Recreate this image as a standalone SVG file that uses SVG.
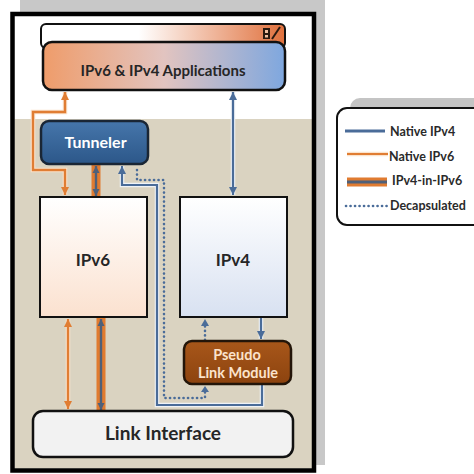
<svg xmlns="http://www.w3.org/2000/svg" width="474" height="474" viewBox="0 0 474 474">
<defs>
<linearGradient id="gApps" x1="0" y1="0" x2="1" y2="0">
<stop offset="0" stop-color="#ef9c6a"/><stop offset="0.5" stop-color="#e2c4c0"/><stop offset="1" stop-color="#7ea7df"/>
</linearGradient>
<linearGradient id="gStrip" x1="0" y1="0" x2="1" y2="0">
<stop offset="0" stop-color="#ffffff"/><stop offset="0.4" stop-color="#ffffff"/><stop offset="1" stop-color="#e0703c"/>
</linearGradient>
<linearGradient id="gTun" x1="0" y1="0" x2="0" y2="1">
<stop offset="0" stop-color="#4676ab"/><stop offset="1" stop-color="#2c5789"/>
</linearGradient>
<linearGradient id="gV6" x1="0" y1="0" x2="0" y2="1">
<stop offset="0" stop-color="#ffffff"/><stop offset="1" stop-color="#fbe1cf"/>
</linearGradient>
<linearGradient id="gV4" x1="0" y1="0" x2="0" y2="1">
<stop offset="0" stop-color="#ffffff"/><stop offset="1" stop-color="#d8e1f1"/>
</linearGradient>
<linearGradient id="gPs" x1="0" y1="0" x2="0" y2="1">
<stop offset="0" stop-color="#a8571a"/><stop offset="1" stop-color="#8c430f"/>
</linearGradient>
<marker id="aB" markerUnits="userSpaceOnUse" markerWidth="9" markerHeight="9" refX="8" refY="4.5" orient="auto-start-reverse">
<path d="M0,0.5 L8,4.5 L0,8.5 Z" fill="#4a6c99"/>
</marker>
<marker id="aO" markerUnits="userSpaceOnUse" markerWidth="9" markerHeight="9" refX="8" refY="4.5" orient="auto-start-reverse">
<path d="M0,0.5 L8,4.5 L0,8.5 Z" fill="#e07d33"/>
</marker>
<marker id="aD" markerUnits="userSpaceOnUse" markerWidth="8" markerHeight="8" refX="7" refY="4" orient="auto-start-reverse">
<path d="M0,0.5 L7,4 L0,7.5 Z" fill="#4f6079"/>
</marker>
<style>
.t{font-family:Lato,"Open Sans","Liberation Sans",sans-serif;font-weight:700;fill:#262626;text-anchor:middle}
.lg{font-family:Lato,"Open Sans","Liberation Sans",sans-serif;font-weight:700;fill:#2a2a2a;font-size:12.5px}
.haloB{fill:none;stroke:#eef2f7;stroke-width:4.5}
.blue{fill:none;stroke:#4a6c99;stroke-width:2.2}
.haloO{fill:none;stroke:#fbe3cc;stroke-width:4.5}
.orange{fill:none;stroke:#e07d33;stroke-width:2.4}
.thick{fill:none;stroke:#e07b30;stroke-width:9}
.core{fill:none;stroke:#4f6079;stroke-width:2.4}
.dot{fill:none;stroke:#4a6c99;stroke-width:2.6;stroke-dasharray:0.1 4.4;stroke-linecap:round}
</style>
</defs>

<!-- frame -->
<rect x="20" y="0" width="305" height="465" fill="#c8c8c8"/>
<rect x="12.5" y="14" width="301.5" height="456.5" fill="#ffffff"/>
<rect x="14.5" y="119" width="297.5" height="349.5" fill="#dad3c1"/>
<rect x="12.5" y="14" width="301.5" height="456.5" fill="none" stroke="#000" stroke-width="4.5"/>

<!-- connectors -->
<g id="connectors">
<path class="haloO" d="M65,92 V112 H33 V170 H65 V195"/>
<path class="orange" d="M65,92 V112 H33 V170 H65 V195" marker-start="url(#aO)" marker-end="url(#aO)"/>
<path class="haloO" d="M68,319 V409"/>
<path class="orange" d="M68,319 V409" marker-start="url(#aO)" marker-end="url(#aO)"/>
<path class="thick" d="M96,165 V197"/>
<path class="core" d="M96,166 V196" marker-start="url(#aD)" marker-end="url(#aD)"/>
<path class="thick" d="M101,318 V411"/>
<path class="core" d="M101,319 V410" marker-start="url(#aD)" marker-end="url(#aD)"/>
<path class="haloB" d="M233,92 V195"/>
<path class="blue" d="M233,92 V195" marker-start="url(#aB)" marker-end="url(#aB)"/>
<path class="haloB" d="M122,166 V185 H157 V405 H262 V385"/>
<path class="blue" d="M122,166 V185 H157 V405 H262 V385" marker-start="url(#aB)"/>
<path class="dot" d="M137,170 V180 H164 V398 H205 V392"/>
<path d="M201,392 L205,386 L209,392 Z" fill="#4a6c99"/>
<path class="dot" d="M205,340 V326"/>
<path d="M201,326 L205,319 L209,326 Z" fill="#4a6c99"/>
<path class="haloB" d="M261,318 V339"/>
<path class="blue" d="M261,318 V339" marker-end="url(#aB)"/>
</g>

<!-- applications -->
<g id="apps">
<rect x="41" y="24" width="244" height="24" rx="5" fill="url(#gStrip)" stroke="#111" stroke-width="2"/>
<rect x="263" y="28" width="7" height="11" fill="#2a1a10"/>
<rect x="265" y="30" width="3" height="3" fill="#f0c0a0"/>
<rect x="265" y="35" width="3" height="2.5" fill="#f0c0a0"/>
<path d="M272,39 L280,27" stroke="#2a1a10" stroke-width="2"/>
<rect x="43" y="42" width="242" height="48" rx="9" fill="url(#gApps)" stroke="#111" stroke-width="2.5"/>
<text class="t" x="163" y="76" font-size="15">IPv6 &amp; IPv4 Applications</text>
</g>

<g id="tunneler">
<rect x="41" y="121" width="107" height="43" rx="8" fill="url(#gTun)" stroke="#1a2635" stroke-width="2.5"/>
<text class="t" x="95.5" y="148" font-size="16" style="fill:#ffffff">Tunneler</text>
</g>

<g id="ipv6">
<rect x="40" y="197" width="107" height="120" fill="url(#gV6)" stroke="#111" stroke-width="2"/>
<text class="t" x="93" y="266" font-size="17">IPv6</text>
</g>

<g id="ipv4">
<rect x="180" y="197" width="107" height="120" fill="url(#gV4)" stroke="#111" stroke-width="2"/>
<text class="t" x="233" y="266" font-size="17">IPv4</text>
</g>

<g id="pseudo">
<rect x="184" y="341" width="107" height="43" rx="8" fill="url(#gPs)" stroke="#231509" stroke-width="2.5"/>
<text class="t" x="237" y="360" font-size="14.5" style="fill:#fbe3cc">Pseudo</text>
<text class="t" x="238" y="377.5" font-size="14.5" style="fill:#fbe3cc">Link Module</text>
</g>

<g id="link">
<rect x="33" y="411" width="260" height="46" rx="10" fill="#f2f2f2" stroke="#111" stroke-width="2.5"/>
<text class="t" x="163" y="440" font-size="19">Link Interface</text>
</g>

<!-- legend -->
<g id="legend">
<rect x="350" y="98" width="140" height="40" rx="10" fill="#c4c4c4"/>
<rect x="337" y="108" width="150" height="117" rx="10" fill="#ffffff" stroke="#111" stroke-width="2"/>
<path class="blue" d="M345,131 H385" style="stroke-width:2.8"/>
<text class="lg" x="390" y="136">Native IPv4</text>
<path class="haloO" d="M347,154 H388"/>
<path class="orange" d="M347,154 H388" style="stroke-width:2"/>
<text class="lg" x="389" y="161">Native IPv6</text>
<path class="thick" d="M347,182 H387"/>
<path class="core" d="M347,182 H387" style="stroke-width:3"/>
<text class="lg" x="392" y="185">IPv4-in-IPv6</text>
<path class="dot" d="M346,206 H387"/>
<text class="lg" x="390" y="210">Decapsulated</text>
</g>
</svg>
